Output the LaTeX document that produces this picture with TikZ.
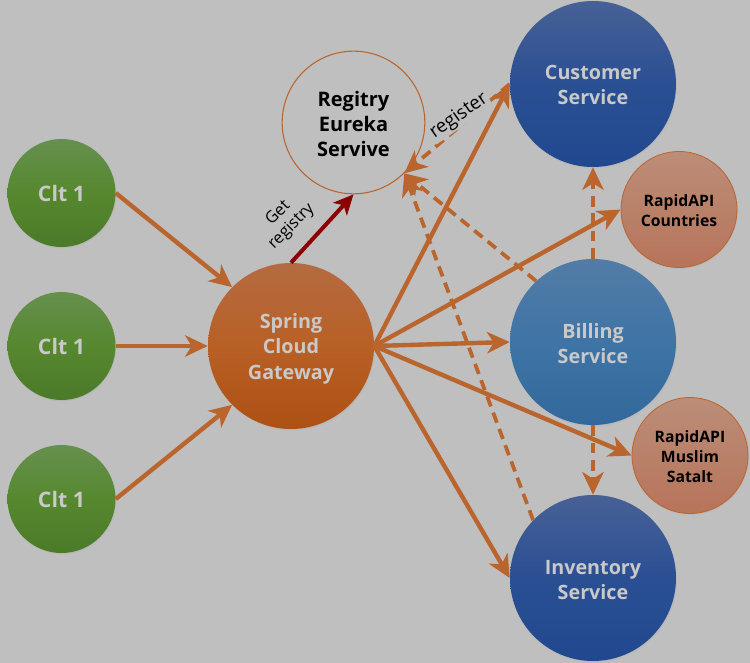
\documentclass[tikz,border=0pt]{standalone}
\usepackage{fontspec}
\setmainfont{Open Sans}
\usetikzlibrary{arrows.meta,shadows}
\definecolor{bgcol}{HTML}{BFBFBF}
\definecolor{linecol}{HTML}{BA652D}
\definecolor{labelcol}{HTML}{C9C9C9}
\newcommand{\firstline}[1]{\rule{0pt}{#1}}
\begin{document}
\begin{tikzpicture}[x=0.75pt,y=-0.75pt]

	\tikzset{
	  service/.style={
	    circle,
	    inner sep=0pt,
	    align=center,
	    font=\fontsize{14.8}{18.8}\selectfont\bfseries,
	    text=labelcol,
	    circular drop shadow={shadow xshift=0.4pt,shadow yshift=-0.8pt,shadow scale=1.01,opacity=0.55},
	  },
	  client/.style={service,minimum size=81pt,top color=clttop,bottom color=cltbot,middle color=cltmid,
	    font=\fontsize{16}{19}\selectfont\bfseries},
	  gateway/.style={service,minimum size=124.5pt,top color=gwtop,bottom color=gwbot,middle color=gwmid},
	  bluedark/.style={service,minimum size=124.5pt,top color=bluetop,bottom color=bluebot,middle color=bluemid},
	  bluelight/.style={service,minimum size=124.5pt,top color=billtop,bottom color=billbot,middle color=billmid},
	  rapid/.style={service,minimum size=87pt,draw=linecol,line width=0.6pt,top color=rapidtop,bottom color=rapidbot,text=black,
	    font=\fontsize{11.8}{15}\selectfont\bfseries},
	  call/.style={draw=linecol,line width=3.3pt,-{Stealth[length=17pt,width=16pt,inset=5pt]}},
	  reg/.style={draw=linecol,line width=2.8pt,dash pattern=on 8pt off 5pt,-{Stealth[length=17pt,width=16pt,inset=5pt]}},
	}
	\definecolor{clttop}{HTML}{66904E}
	\definecolor{cltmid}{HTML}{56882F}
	\definecolor{cltbot}{HTML}{4B7A29}
	\definecolor{gwtop}{HTML}{B56B41}
	\definecolor{gwmid}{HTML}{B86026}
	\definecolor{gwbot}{HTML}{AE5014}
	\definecolor{bluetop}{HTML}{476196}
	\definecolor{bluemid}{HTML}{2A4F93}
	\definecolor{bluebot}{HTML}{21488F}
	\definecolor{billtop}{HTML}{527CA6}
	\definecolor{billmid}{HTML}{3F74A6}
	\definecolor{billbot}{HTML}{32689B}
	\definecolor{rapidtop}{HTML}{BC8D78}
	\definecolor{rapidbot}{HTML}{B7745A}

	\fill[bgcol] (0,0) rectangle (750,663);
	\useasboundingbox (0,0) rectangle (750,663);

	\node[client] (clta) at (61.5,193) {\firstline{13pt}Clt 1};
	\node[client] (cltb) at (61.5,346) {\firstline{13pt}Clt 1};
	\node[client] (cltc) at (61.5,499) {\firstline{13pt}Clt 1};
	\node[gateway] (gw) at (291,346) {\firstline{15.5pt}Spring\\Cloud\\Gateway};
	\node[circle,minimum size=107pt,inner sep=0pt,align=center,draw=linecol,line width=0.8pt,font=\fontsize{15}{18.8}\selectfont\bfseries] (registry) at (353.5,122.5) {\firstline{14pt}Regitry\\Eureka\\Servive};
	\node[bluedark] (customer) at (593,84) {\firstline{11.5pt}Customer\\Service};
	\node[bluelight] (billing) at (593,342) {\firstline{14pt}Billing\\Service};
	\node[bluedark] (inventory) at (593,578) {\firstline{14pt}Inventory\\Service};
	\node[rapid] (countries) at (679,209.5) {\firstline{10.2pt}RapidAPI\\Countries};
	\node[rapid] (muslim) at (690,455.5) {\firstline{10.2pt}RapidAPI\\Muslim\\Satalt};

	\draw[reg] (customer.west) -- (registry.-45);
	\draw[reg] (billing.133) -- (registry.-45);
	\draw[reg] (inventory.136) -- (registry.-45);
	\draw[reg] (billing.north) -- (customer.south);
	\draw[reg] (billing.south) -- (inventory.north);

	\draw[call] (clta.east) -- (gw.135);
	\draw[call] (cltb.east) -- (gw.west);
	\draw[call] (cltc.east) -- (gw.225);
	\draw[call] (gw.east) -- (customer.west);
	\draw[call] (gw.east) -- (countries.west);
	\draw[call] (gw.east) -- (billing.west);
	\draw[call] (gw.east) -- (muslim.west);
	\draw[call] (gw.east) -- (inventory.west);
	\draw[draw={rgb,255:red,139;green,0;blue,0},line width=3pt,-{Stealth[length=15pt,width=14pt,inset=4pt]}] (gw.north) -- (registry.south);

	\node[rotate=35,fill=bgcol,inner sep=1pt,font=\fontsize{14}{16}\selectfont] (lblreg) at (459,116) {register};
	\node[rotate=45,align=center,font=\fontsize{12.3}{14}\selectfont] (lblget) at (285,220) {Get\\registry};

\end{tikzpicture}
\end{document}
